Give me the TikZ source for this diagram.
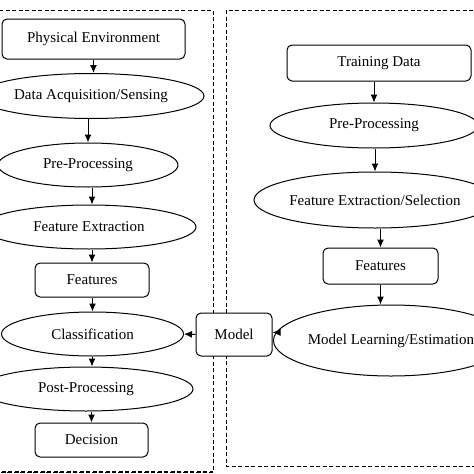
\documentclass[tikz,border=0pt]{standalone}
\usepackage{fontspec}
\setmainfont{Liberation Serif}
\usetikzlibrary{shapes.geometric,arrows.meta}
\begin{document}
\begin{tikzpicture}[x=1pt,y=-1pt,
  txt/.style={font=\fontsize{15}{17}\selectfont},
  box/.style={txt,draw,rounded corners=5pt,fill=white,line width=1pt,inner sep=0pt},
  ell/.style={txt,draw,ellipse,fill=white,line width=1pt,inner sep=0pt},
  arr/.style={-{Latex[length=8pt,width=7pt]},line width=1pt},
  frame/.style={line width=0.6pt,dash pattern=on 4pt off 2.5pt}]
\useasboundingbox (0,0) rectangle (474,474);
\clip (0,0) rectangle (474,474);
\fill[white] (0,0) rectangle (474,474);
% frames
\draw[frame] (-5,10) rectangle (213,472);
\draw[frame,line width=1.1pt] (-5,472) -- (213,472);
\draw[frame] (226,10) rectangle (485,466);
% left column
\node[box,minimum width=183pt,minimum height=40pt] (pe) at (93.5,39) {Physical Environment};
\node[ell,minimum width=226pt,minimum height=45pt] (daq) at (91,96) {Data Acquisition/Sensing};
\node[ell,minimum width=180pt,minimum height=44pt] (pp1) at (88,165) {Pre-Processing};
\node[ell,minimum width=214pt,minimum height=44pt] (fe) at (89,227) {Feature Extraction};
\node[box,minimum width=114pt,minimum height=34pt] (feat1) at (92,280) {Features};
\node[ell,minimum width=182pt,minimum height=44pt] (cls) at (92.5,334) {Classification};
\node[ell,minimum width=214pt,minimum height=44pt] (post) at (86,389) {Post-Processing};
\node[box,minimum width=113pt,minimum height=34pt] (dec) at (91.5,440) {Decision};
% right column
\node[box,minimum width=184pt,minimum height=36pt] (td) at (379,63) {Training Data};
\node[ell,minimum width=208pt,minimum height=45pt] (pp2) at (374,125.5) {Pre-Processing};
\node[ell,minimum width=232pt,minimum height=56pt] (fse) at (375,200) {Feature Extraction/Selection};
\node[box,minimum width=115pt,minimum height=36pt] (feat2) at (380.5,266) {Features};
\node[ell,minimum width=210pt,minimum height=71pt] (mle) at (391,340.5) {Model Learning/Estimation};
% model
\node[box,minimum width=76pt,minimum height=43pt] (model) at (234,334.5) {Model};
% arrows left
\draw[arr] (pe.south) -- (pe.south |- daq.north);
\draw[arr] (pp1.north |- daq.south) -- (pp1.north);
\draw[arr] (feat1.north |- pp1.south) -- (feat1.north |- fe.north);
\draw[arr] (feat1.north |- fe.south) -- (feat1.north);
\draw[arr] (cls.north |- feat1.south) -- (cls.north);
\draw[arr] (feat1.south |- cls.south) -- (feat1.south |- post.north);
\draw[arr] (dec.north |- post.south) -- (dec.north);
% arrows right
\draw[arr] (pp2.north |- td.south) -- (pp2.north);
\draw[arr] (fse.north |- pp2.south) -- (fse.north);
\draw[arr] (feat2.north |- fse.south) -- (feat2.north);
\draw[arr] (feat2.south) -- (feat2.south |- mle.north);
% model arrows
\draw[arr] (mle.176) -- (mle.176 -| model.east);
\draw[arr] (model.west) -- (cls.east);
\end{tikzpicture}
\end{document}
